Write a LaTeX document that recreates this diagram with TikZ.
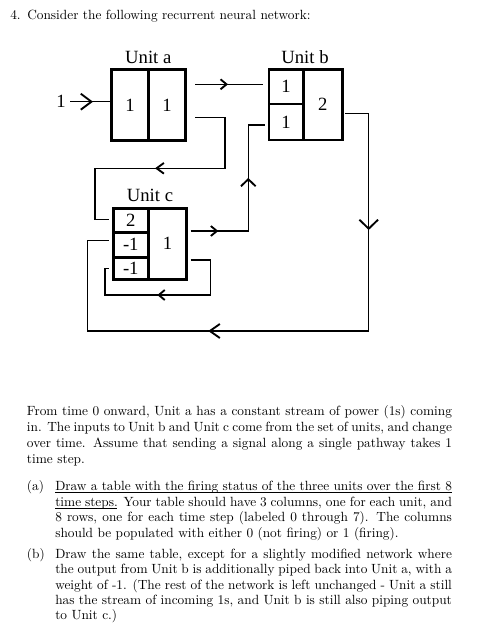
\documentclass[tikz,border=0pt]{standalone}
\usepackage{fontspec}
\newfontfamily\diagfont{Liberation Serif}
\usetikzlibrary{arrows.meta,decorations.markings,calc}
\begin{document}
\begin{tikzpicture}[x=0.75pt,y=-0.75pt,
  cell/.style={draw,line width=2.2pt,inner sep=0pt,outer sep=0pt,anchor=north west,
    font=\diagfont\fontsize{14}{16}\selectfont},
  lab/.style={inner sep=0pt,anchor=base,font=\diagfont\fontsize{14}{16}\selectfont},
  wire/.style={line width=1pt},
  chev/.style n args={3}{postaction={decorate,decoration={markings,
     mark=at position #1 with {\arrow{Straight Barb[length=#2,width=#3,line width=1.4pt]}}}}},
  body/.style={inner sep=0pt,anchor=base west,font=\fontsize{10}{12}\selectfont},
  uline/.style={line width=0.5pt}]
\useasboundingbox (0,0) rectangle (501,629);

% ---- title
\node[body] (num) at (10,19.5) {4.};
\node[body] (title) at (27,19.5) {Consider the following recurrent neural network:};

% ---- Unit a
\node[cell,minimum width=27.45pt,minimum height=53.55pt] (a1) at (111.7,69.3) {1};
\node[cell,minimum width=28.05pt,minimum height=53.55pt] (a2) at (148.3,69.3) {1};
\node[lab] (la) at (148.3,63.3) {Unit a};
% ---- Unit b
\node[cell,minimum width=25.725pt,minimum height=26.025pt] (b1) at (269,69.3) {1};
\node[cell,minimum width=25.725pt,minimum height=27pt] (b2) at (269,104) {1};
\node[cell,minimum width=29.25pt,minimum height=53.025pt] (b3) at (303.3,69.3) {2};
\node[lab] (lb) at (305,63.3) {Unit b};
% ---- Unit c
\node[cell,minimum width=26.25pt,minimum height=18pt] (c1) at (113.3,208.3) {2};
\node[cell,minimum width=26.25pt,minimum height=18.75pt] (c2) at (113.3,232.3) {-1};
\node[cell,minimum width=26.25pt,minimum height=16.5pt] (c3) at (113.3,257.3) {-1};
\node[cell,minimum width=28.8pt,minimum height=53.25pt] (c4) at (148.3,208.3) {1};
\node[lab] (lc) at (150,201.7) {Unit c};

% ---- input
\node[lab] (one) at (61,107.7) {1};
\coordinate (in1) at (70,101.7);
\draw[wire,chev={17.25pt}{8pt}{12pt}] (in1) -- (in1 -| a1.west);

% ---- a -> b
\draw[wire,chev={24.75pt}{4.5pt}{7.5pt}]
  ($(a2.north east)+(9.3,15)$) -- ($(b1.north west)+(-5.7,15)$);

% ---- a -> c
\draw[wire,chev={113.25pt}{5.5pt}{8pt}]
  ($(a2.north east)+(9.3,48)$) -- ++(30,0) -- ++(0,51)
  -| ($(c1.west)+(-18.3,-1)$) -- ($(c1.west)+(-4,-1)$);

% ---- c -> b
\draw[wire,chev={20.7pt}{4.5pt}{7.5pt},chev={83pt}{5.25pt}{11pt}]
  ($(c4.north east)+(4,22.7)$) -- ++(57.6,0)
  |- ($(b2.west)+(-4,3)$);

% ---- b -> c (long loop)
\draw[wire,chev={105.3pt}{6.75pt}{14pt},chev={301.4pt}{7.5pt}{10.5pt}]
  ($(b3.north east)+(2.7,44)$) -- ++(23.7,0) -- ++(0,217.7)
  -| ($(c2.west)+(-26,-4.1)$) -- ($(c2.west)+(-4,-4.1)$);

% ---- c self loop
\draw[wire,chev={81.3pt}{4.5pt}{7.5pt}]
  ($(c4.north east)+(4,51.7)$) -- ++(20,0) -- ++(0,35)
  -| ($(c3.west)+(-8.3,0)$) -- ($(c3.west)+(-4,0)$);

% ---- paragraph
\node[body] (p1) at (26.7,415.5) {\makebox[318.75pt][s]{From time 0 onward, Unit a has a constant stream of power (1s) coming}};
\node[body] (p2) at (26.7,431.5) {\makebox[318.75pt][s]{in. The inputs to Unit b and Unit c come from the set of units, and change}};
\node[body] (p3) at (26.7,447.3) {\makebox[318.75pt][s]{over time. Assume that sending a signal along a single pathway takes 1}};
\node[body] (p4) at (26.7,463) {time step.};

% ---- (a)
\node[body] (ia) at (26.7,490.5) {(a)};
\node[body] (a1l) at (55,490.5) {\makebox[297.5pt][s]{Draw a table with the firing status of the three units over the first 8}};
\node[body] (a2l) at (55,506) {\makebox[297.5pt][s]{time steps. Your table should have 3 columns, one for each unit, and}};
\node[body] (a3l) at (55,521.7) {\makebox[297.5pt][s]{8 rows, one for each time step (labeled 0 through 7). The columns}};
\node[body] (a4l) at (55,537.3) {should be populated with either 0 (not firing) or 1 (firing).};
\draw[uline] (55,492.7) -- (451.7,492.7);
\draw[uline] (55,508.3) -- (116.7,508.3);

% ---- (b)
\node[body] (ib) at (26.7,558) {(b)};
\node[body] (b1l) at (55,558) {\makebox[297.5pt][s]{Draw the same table, except for a slightly modified network where}};
\node[body] (b2l) at (55,573.5) {\makebox[297.5pt][s]{the output from Unit b is additionally piped back into Unit a, with a}};
\node[body] (b3l) at (55,589) {\makebox[297.5pt][s]{weight of -1. (The rest of the network is left unchanged - Unit a still}};
\node[body] (b4l) at (55,604) {\makebox[297.5pt][s]{has the stream of incoming 1s, and Unit b is still also piping output}};
\node[body] (b5l) at (55,619.5) {to Unit c.)};
\end{tikzpicture}
\end{document}
